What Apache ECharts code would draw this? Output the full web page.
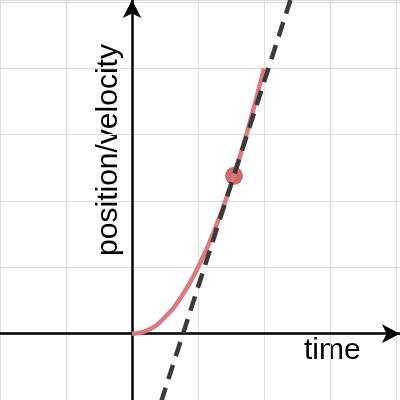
<!DOCTYPE html>
<html>
<head>
<meta charset="utf-8">
<script src="https://cdn.jsdelivr.net/npm/echarts@6/dist/echarts.min.js"></script>
<style>html,body{margin:0;padding:0;background:#fff}#c{width:400px;height:400px}</style>
</head>
<body>
<div id="c"></div>
<script>
// position curve
var curveX = [0, 0.25, 0.5, 0.75, 1, 1.25, 1.5, 1.75, 2];
var curveY = [0, 0.06, 0.25, 0.56, 1, 1.56, 2.25, 3.06, 4];
// tangent line endpoints
var tanX = [0.44, 2.4];
var tanY = [-1.03, 5.03];
// point of tangency
var pt = [1.545, 2.38];

var myChart = echarts.init(document.getElementById('c'));
var option = {
    animation: false,
    grid: { left: 0, right: 0, top: 0, bottom: 0 },
    xAxis: {
        type: 'value', min: -2, max: 4.06, interval: 1,
        axisLine: { onZero: true, symbol: ['none', 'arrow'], symbolSize: [14, 18],
            lineStyle: { color: '#000', width: 2.5 } },
        axisTick: { show: false }, axisLabel: { show: false },
        splitLine: { lineStyle: { color: '#ddd', width: 1 } }
    },
    yAxis: {
        type: 'value', min: -1, max: 5.03, interval: 1,
        axisLine: { onZero: true, symbol: ['none', 'arrow'], symbolSize: [14, 18],
            lineStyle: { color: '#000', width: 2.5 } },
        axisTick: { show: false }, axisLabel: { show: false },
        splitLine: { lineStyle: { color: '#ddd', width: 1 } }
    },
    series: [
        {
            type: 'line', smooth: true, symbol: 'none',
            data: curveX.map(function (x, i) { return [x, curveY[i]]; }),
            lineStyle: { color: '#d97a7c', width: 4.5 }
        },
        {
            type: 'line', symbol: 'none',
            data: tanX.map(function (x, i) { return [x, tanY[i]]; }),
            lineStyle: { color: '#3a3a3a', width: 4.5, type: [15, 9] }
        },
        {
            type: 'scatter', symbolSize: 18, data: [pt],
            itemStyle: { color: '#c74440' }
        }
    ],
    graphic: [
        { type: 'text', left: 304, top: 336,
          style: { text: 'time', font: '30px "Liberation Sans", Arial', fill: '#000' } },
        { type: 'text', x: 94, y: 150, rotation: Math.PI / 2,
          style: { text: 'position/velocity', font: '30px "Liberation Sans", Arial', fill: '#000',
                   align: 'center', verticalAlign: 'top' } }
    ]
};
myChart.setOption(option);
</script>
</body>
</html>
